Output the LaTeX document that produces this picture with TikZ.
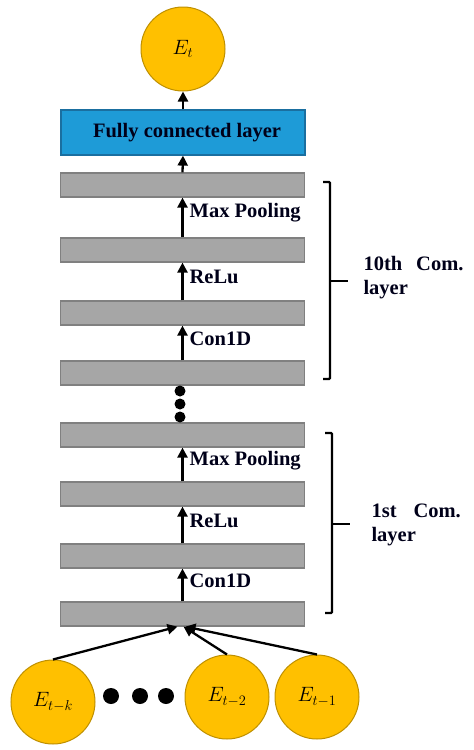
\documentclass[tikz,border=0pt]{standalone}
\usepackage{amsmath}
\usepackage{fontspec}
\setmainfont{Liberation Serif}
\usepackage{tikz}
\usetikzlibrary{arrows.meta}
\definecolor{gold}{HTML}{FFC000}
\definecolor{golddark}{HTML}{BF9000}
\definecolor{fcblue}{HTML}{1E9BD7}
\definecolor{fcdark}{HTML}{1A6FA0}
\tikzset{
    unit/.style={circle, fill=gold, draw=golddark, line width=1pt, minimum size=84pt, inner sep=0pt, font=\fontsize{21}{24}\selectfont}, % 输入输出节点
    layer/.style={rectangle, fill=black!35, draw=black!50, line width=1.2pt, minimum width=244pt, minimum height=24pt, inner sep=0pt}, % 灰色卷积层
    arr/.style={line width=2.3pt, -{Triangle[length=10pt, width=10pt]}}, % 箭头
    lab/.style={font=\bfseries\fontsize{20.5}{24}\selectfont, text=black!90!blue} % 文字
}

\begin{document}
\begin{tikzpicture}[x=1pt, y=-1pt]
            \useasboundingbox (0,0) rectangle (474,750);

            \node[unit] (et) at (183,49) {$E_t$};
            \node[rectangle, fill=fcblue, draw=fcdark, line width=1.2pt, minimum width=244pt, minimum height=45pt, lab] (fc) at (183,132.5) {\hspace*{8pt}Fully connected layer};
            \foreach \n/\y in {a/185, b/250, c/313, d/373, e/435, f/494, g/556, h/614} {\node[layer] (\n) at (182.5,\y) {};}

            \draw[arr] (fc.north) -- (et.south);
            \draw[arr] (a.north) -- (fc.south);
            \foreach \lo/\hi/\txt in {b/a/Max Pooling, c/b/ReLu, d/c/Con1D, f/e/Max Pooling, g/f/ReLu, h/g/Con1D}
                {\draw[arr] (\lo.north) -- (\hi.south) node[lab, pos=0.62, anchor=west, inner sep=6pt] {\txt};}

            \foreach \y in {391,404,417} {\fill (180,\y) circle (5.5pt);}

            % 右侧括号
            \draw[line width=2.2pt, rounded corners=1pt] (323,182) -- (330,182) -- (330,379) -- (323,379);
            \draw[line width=2.2pt] (330,281) -- (348,281);
            \node[lab, anchor=west, align=left] (top) at (360,278) {10th\hspace*{14pt}Com.\\layer};
            \draw[line width=2.2pt, rounded corners=1pt] (325,433) -- (332,433) -- (332,613) -- (325,613);
            \draw[line width=2.2pt] (332,524) -- (350,524);
            \node[lab, anchor=west, align=left] (bot) at (368,525) {1st\hspace*{17pt}Com.\\layer};

            \node[unit] (ek) at (53,702) {$E_{t-k}$};
            \node[unit] (e2) at (227,697) {$E_{t-2}$};
            \node[unit] (e1) at (317,697) {$E_{t-1}$};
            \foreach \x in {111,140,166} {\fill (\x,696) circle (8pt);}

            \draw[arr] (ek.north) -- ([xshift=-5pt]h.south);
            \draw[arr] (e2.north) -- ([xshift=1pt]h.south);
            \draw[arr] (e1.north) -- ([xshift=3pt]h.south);
        \end{tikzpicture}
\end{document}
